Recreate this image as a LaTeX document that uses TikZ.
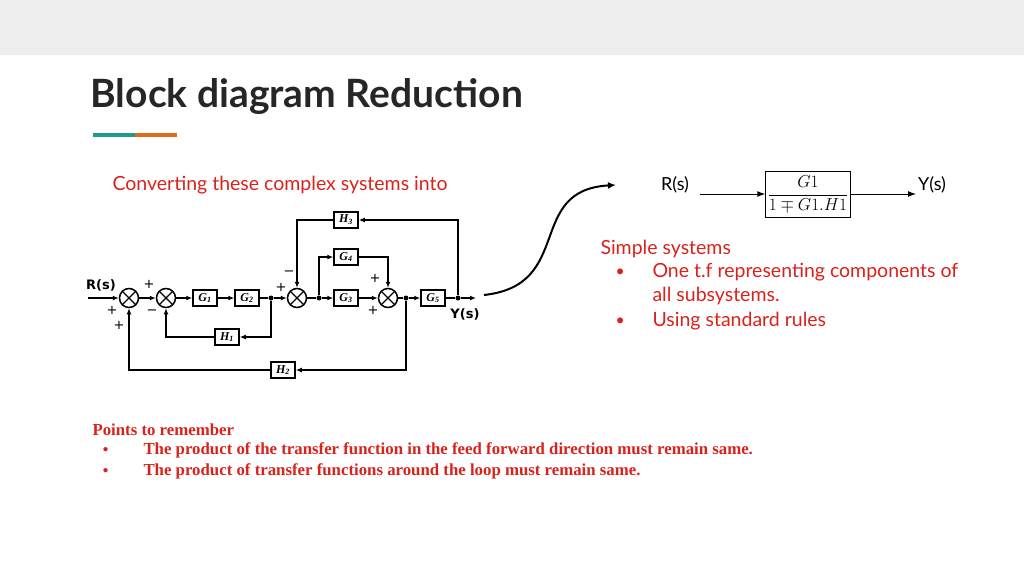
\documentclass[tikz,border=0pt]{standalone}
\usepackage{fontspec}
\setmainfont{Lato}
\newfontfamily\serifb{Liberation Serif}
\newfontfamily\dsans{DejaVu Sans}
\usetikzlibrary{arrows.meta}
\definecolor{myred}{HTML}{D8221B}
\definecolor{teal1}{HTML}{1F9A8F}
\definecolor{orng}{HTML}{E36A1E}
\begin{document}
\begin{tikzpicture}[x=1pt,y=-1pt,
 blk/.style={draw,line width=1.5pt,minimum width=24pt,minimum height=16pt,inner sep=0pt,font=\serifb\bfseries\itshape\fontsize{12}{12}\selectfont},
 sum/.style={draw,circle,line width=1.5pt,minimum size=19pt,inner sep=0pt,path picture={\draw[line width=1.2pt] (path picture bounding box.north west)--(path picture bounding box.south east) (path picture bounding box.north east)--(path picture bounding box.south west);}},
 dot/.style={circle,fill,inner sep=0pt,minimum size=5pt},
 w/.style={line width=1.5pt,-{Latex[length=6pt,width=5pt]}},
 l/.style={line width=1.5pt},
 sg/.style={font=\dsans\fontsize{13}{13}\selectfont},
 rt/.style={text=myred,font=\fontsize{19.5}{22}\selectfont,anchor=west},
 bt/.style={text=myred,font=\serifb\bfseries\fontsize{16.8}{18}\selectfont,anchor=west}]
\useasboundingbox (0,0) rectangle (1024,576);
\fill[gray!13] (0,0) rectangle (1024,55);
\node[anchor=west,font=\bfseries\fontsize{39}{44}\selectfont,text=black!85] (title) at (87,97) {Block diagram Reduction};
\fill[teal1] (93,133) rectangle (135,137);
\fill[orng] (135,133) rectangle (177,137);
\node[rt] (conv) at (109,185) {Converting these complex systems into};
% diagram
\node[sum] (s1) at (129,298) {};
\node[sum] (s2) at (166,298) {};
\node[blk] (g1) at (205,298) {G\textsubscript{1}};
\node[blk] (g2) at (247,298) {G\textsubscript{2}};
\node[dot] (b1) at (271,298) {};
\node[sum] (s3) at (297,298) {};
\node[dot] (b2) at (319,298) {};
\node[blk] (g3) at (346,298) {G\textsubscript{3}};
\node[blk] (g4) at (346,257) {G\textsubscript{4}};
\node[sum] (s4) at (388,298) {};
\node[dot] (b3) at (406,298) {};
\node[blk] (g5) at (433,298) {G\textsubscript{5}};
\node[dot] (b4) at (458,298) {};
\coordinate (out) at (476,298);
\coordinate (in) at (88,298);
\node[blk] (h3) at (346,220) {H\textsubscript{3}};
\node[blk] (h1) at (227,337) {H\textsubscript{1}};
\node[blk] (h2) at (283,370) {H\textsubscript{2}};
\node[font=\dsans\bfseries\fontsize{13}{13}\selectfont] (rs) at (101,285) {R(s)};
\node[font=\dsans\bfseries\fontsize{13}{13}\selectfont] (ys) at (465,314) {Y(s)};
\draw[w] (in)--(s1);
\draw[w] (s1)--(s2);
\draw[w] (s2)--(g1);
\draw[w] (g1)--(g2);
\draw[l] (g2)--(b1);
\draw[w] (b1)--(s3);
\draw[l] (s3)--(b2);
\draw[w] (b2)--(g3);
\draw[w] (g3)--(s4);
\draw[l] (s4)--(b3);
\draw[w] (b3)--(g5);
\draw[l] (g5)--(b4);
\draw[w] (b4)--(out);
\draw[w] (b2)|-(g4);
\draw[w] (g4)-|(s4);
\draw[w] (b1)|-(h1);
\draw[w] (h1)-|(s2);
\draw[w] (b3)|-(h2);
\draw[w] (h2)-|(s1);
\draw[w] (b4)|-(h3);
\draw[w] (h3)-|(s3);
\node[sg] at (149,284) {+};
\node[sg] at (112,310) {+};
\node[sg] at (119,325) {+};
\node[sg] at (152,312) {\textminus};
\node[sg] at (281,287) {+};
\node[sg] at (289,273) {\textminus};
\node[sg] at (375,278) {+};
\node[sg] at (373,310) {+};
% curved arrow
\coordinate (ca) at (484,295);
\coordinate (cb) at (616,185);
\draw[line width=2pt,-{Latex[length=8pt,width=7pt]}] (ca) .. controls (575,285) and (525,190) .. (cb);
% simplified block
\node[draw,line width=0.8pt,inner sep=2pt,minimum width=70pt,minimum height=46pt,font=\serifb\fontsize{16}{18}\selectfont] (tf) at (808,194) {$\displaystyle\frac{G1}{1\mp G1.H1}$};
\node[font=\fontsize{18}{20}\selectfont] (R) at (675,185) {R(s)};
\node[font=\fontsize{18}{20}\selectfont] (Y) at (932,185) {Y(s)};
\coordinate (ri) at (700,194);
\coordinate (yo) at (916,194);
\draw[line width=1pt,-{Latex[length=8pt,width=6pt]}] (ri)--(tf);
\draw[line width=1pt,-{Latex[length=8pt,width=6pt]}] (tf)--(yo);
\node[rt] (ss) at (597,249) {Simple systems};
\node[rt] at (613,272) {\fontsize{12}{12}\selectfont●};
\node[rt] at (649,272) {One t.f representing components of};
\node[rt] at (649,296) {all subsystems.};
\node[rt] at (613,321) {\fontsize{12}{12}\selectfont●};
\node[rt] at (649,321) {Using standard rules};
\node[bt] (pr) at (89,430) {Points to remember};
\node[bt] at (99,450) {\fontsize{10}{10}\selectfont●};
\node[bt] at (140,450) {The product of the transfer function in the feed forward direction must remain same.};
\node[bt] at (99,471) {\fontsize{10}{10}\selectfont●};
\node[bt] at (140,471) {The product of transfer functions around the loop must remain same.};
\end{tikzpicture}
\end{document}
